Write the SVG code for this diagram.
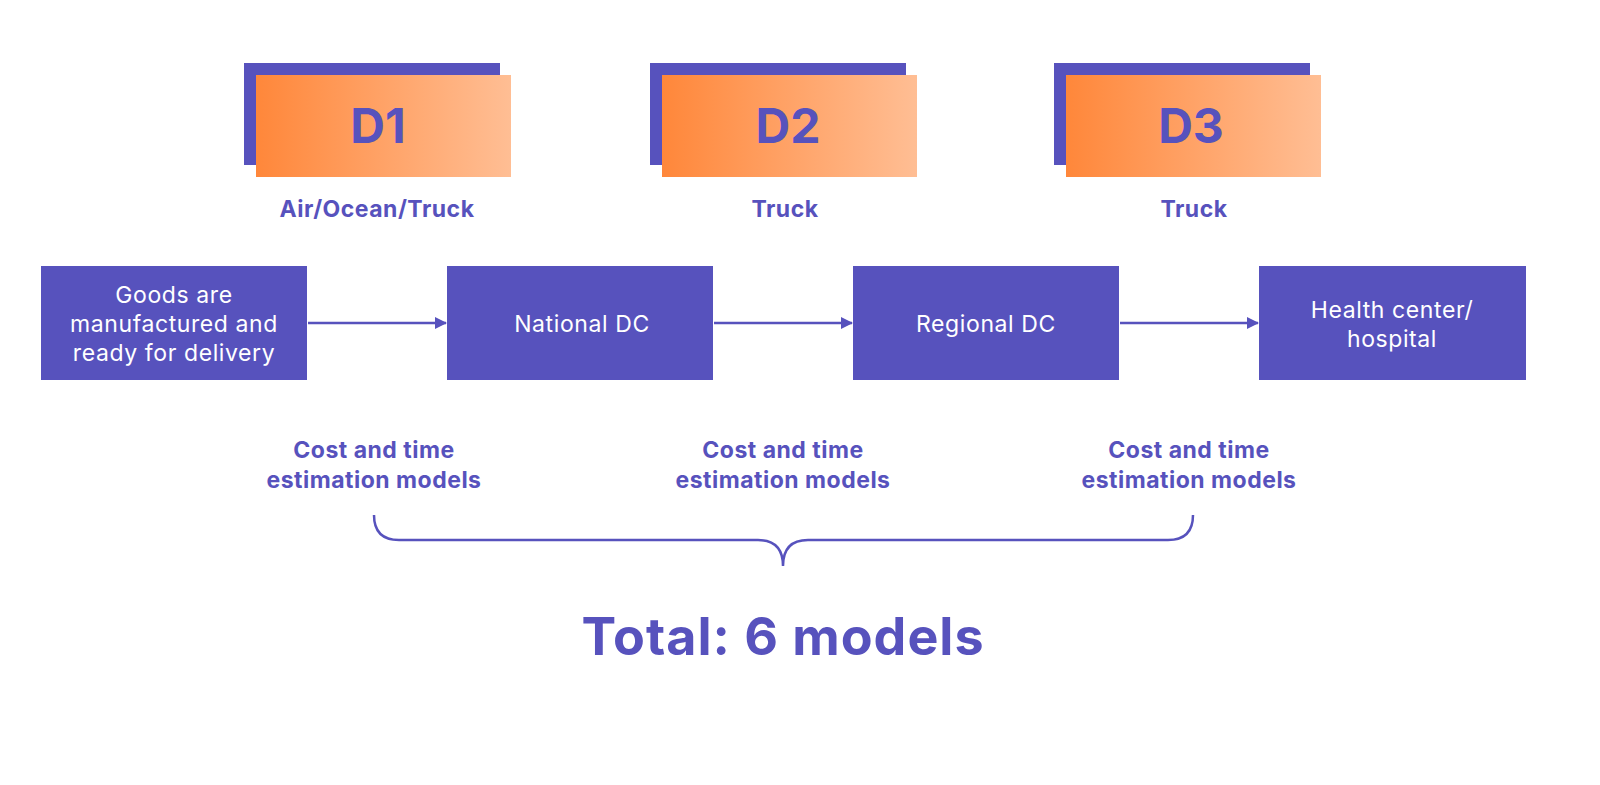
<svg xmlns="http://www.w3.org/2000/svg" width="1600" height="785" viewBox="0 0 1600 785">
<style>
.sh{fill:#5752BD}
.node{fill:#5752BD}
.nt{font-family:Inter,"Open Sans",sans-serif;font-size:23px;letter-spacing:0.6px;fill:#fff;text-anchor:middle}
.dt{font-family:Inter,"Open Sans",sans-serif;font-size:48px;font-weight:700;fill:#5752BD;text-anchor:middle}
.lb{font-family:Inter,"Open Sans",sans-serif;font-size:23px;font-weight:700;letter-spacing:0.5px;fill:#5752BD;text-anchor:middle}
.c{stroke:#5752BD;stroke-width:2.5;fill:none}
</style>
<defs>
<linearGradient id="g" x1="0" x2="1" y1="0" y2="0"><stop offset="0" stop-color="#FF873A"/><stop offset="1" stop-color="#FFBE94"/></linearGradient>
<marker id="a" markerWidth="12" markerHeight="12" refX="11" refY="6" orient="auto" markerUnits="userSpaceOnUse" viewBox="0 0 12 12"><path d="M0,0L12,6L0,12z" fill="#5752BD"/></marker>
</defs>
<g id="d1"><rect class="sh" x="244" y="63" width="256" height="102"/><rect x="256" y="75" width="255" height="102" fill="url(#g)"/><text class="dt" x="378" y="143">D1</text><text class="lb" x="377" y="217">Air/Ocean/Truck</text></g>
<g id="d2"><rect class="sh" x="650" y="63" width="256" height="102"/><rect x="662" y="75" width="255" height="102" fill="url(#g)"/><text class="dt" x="788" y="143">D2</text><text class="lb" x="785" y="217">Truck</text></g>
<g id="d3"><rect class="sh" x="1054" y="63" width="256" height="102"/><rect x="1066" y="75" width="255" height="102" fill="url(#g)"/><text class="dt" x="1191" y="143">D3</text><text class="lb" x="1194" y="217">Truck</text></g>
<g id="n1"><rect class="node" x="41" y="266" width="266" height="114"/><text class="nt" x="174" y="303">Goods are</text><text class="nt" x="174" y="332">manufactured and</text><text class="nt" x="174" y="361">ready for delivery</text></g>
<g id="n2"><rect class="node" x="447" y="266" width="266" height="114"/><text class="nt" x="582" y="332">National DC</text></g>
<g id="n3"><rect class="node" x="853" y="266" width="266" height="114"/><text class="nt" x="986" y="332">Regional DC</text></g>
<g id="n4"><rect class="node" x="1259" y="266" width="267" height="114"/><text class="nt" x="1392" y="318">Health center/</text><text class="nt" x="1392" y="347">hospital</text></g>
<g id="connectors">
<line class="c" x1="308" y1="323" x2="446" y2="323" marker-end="url(#a)"/>
<line class="c" x1="714" y1="323" x2="852" y2="323" marker-end="url(#a)"/>
<line class="c" x1="1120" y1="323" x2="1258" y2="323" marker-end="url(#a)"/>
<path class="c" d="M374,515 Q374,540 399,540 L758,540 Q783,540 783,566 Q783,540 808,540 L1168,540 Q1193,540 1193,515"/>
</g>
<g id="labels">
<text class="lb" x="374" y="458">Cost and time</text><text class="lb" x="374" y="488">estimation models</text>
<text class="lb" x="783" y="458">Cost and time</text><text class="lb" x="783" y="488">estimation models</text>
<text class="lb" x="1189" y="458">Cost and time</text><text class="lb" x="1189" y="488">estimation models</text>
<text class="lb" x="783" y="655" style="font-size:52px;letter-spacing:1px">Total: 6 models</text>
</g>
</svg>
